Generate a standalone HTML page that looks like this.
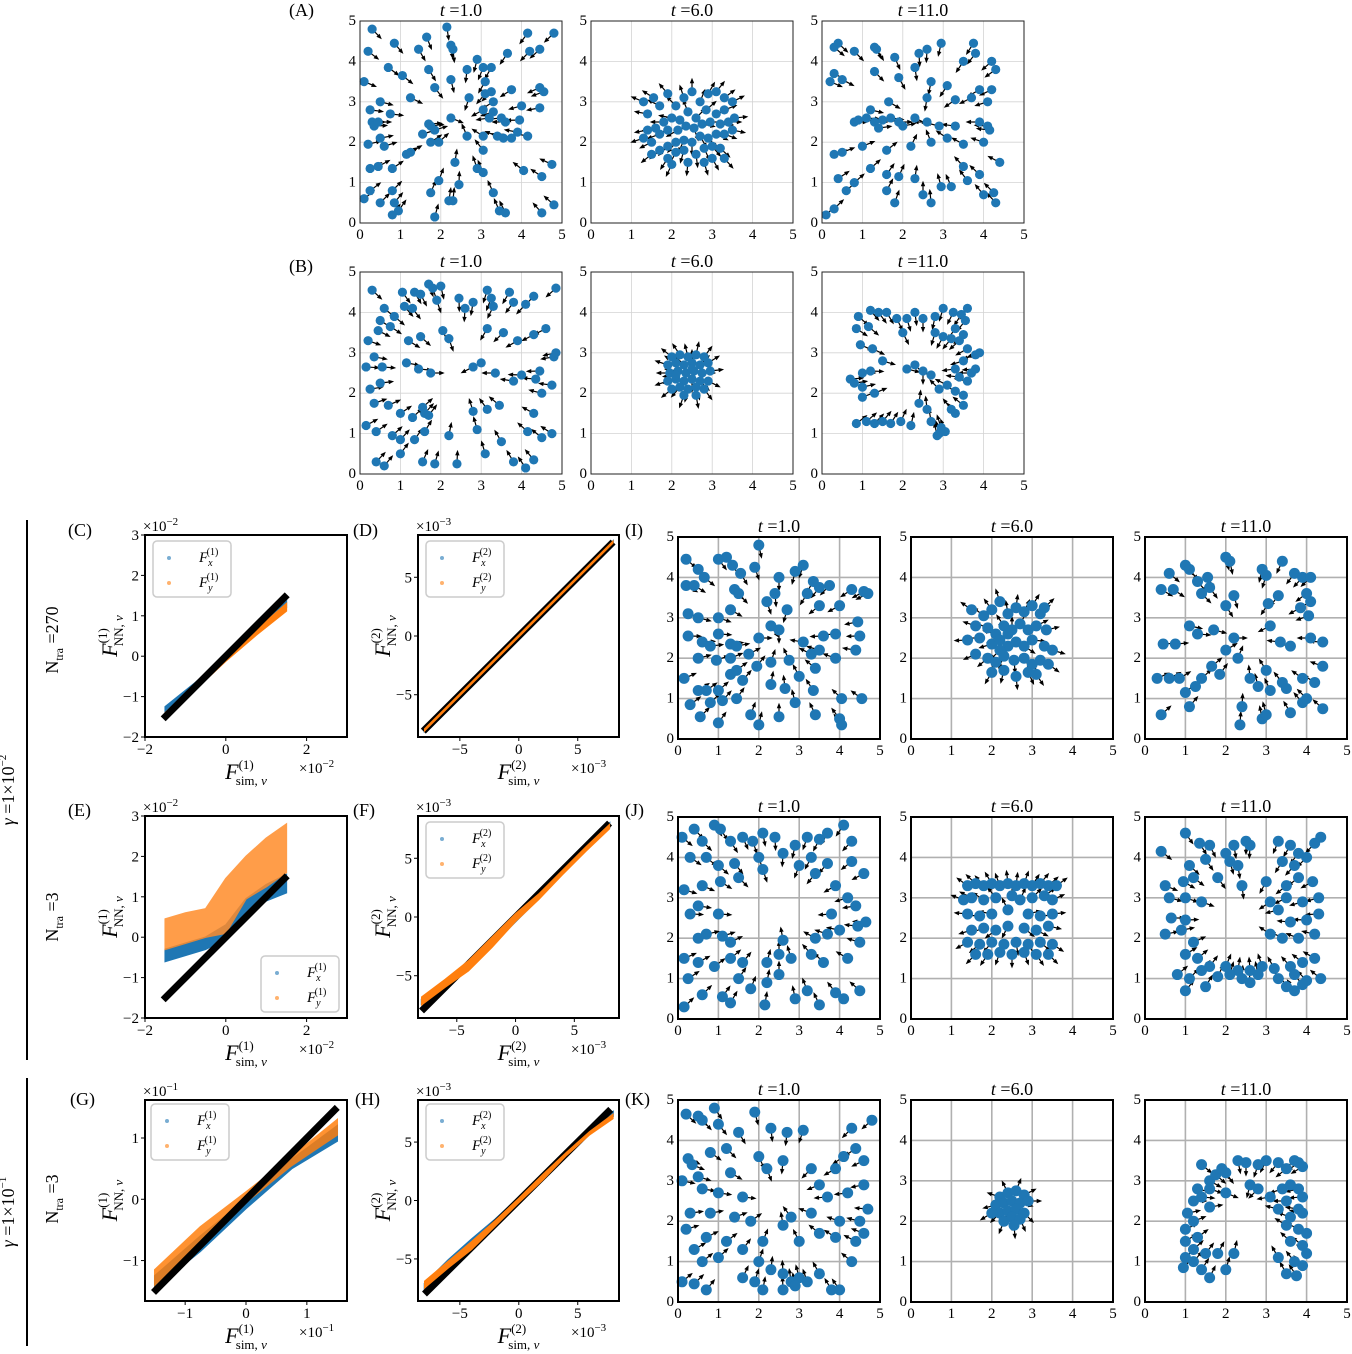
<!DOCTYPE html>
<html><head><meta charset="utf-8"><style>
body{margin:0;background:#fff}
svg{display:block;font-family:"Liberation Serif",serif}
</style></head><body>
<svg id="fig" width="1352" height="1354" viewBox="0 0 1352 1354" xmlns="http://www.w3.org/2000/svg">
<g id="labels" font-size="18" fill="#000">
<text x="289" y="16">(A)</text>
<text x="289" y="272">(B)</text>
<text x="68" y="536">(C)</text>
<text x="353" y="536">(D)</text>
<text x="625" y="536">(I)</text>
<text x="68" y="816">(E)</text>
<text x="353" y="816">(F)</text>
<text x="625" y="816">(J)</text>
<text x="70" y="1105">(G)</text>
<text x="355" y="1105">(H)</text>
<text x="625" y="1105">(K)</text>
<line x1="27" y1="520" x2="27" y2="1060" stroke="#000" stroke-width="2"/>
<line x1="27" y1="1078" x2="27" y2="1346" stroke="#000" stroke-width="2"/>
<text transform="translate(14,790) rotate(-90)" text-anchor="middle"><tspan font-style="italic">γ</tspan> =1×10<tspan font-size="11" dy="-8">−2</tspan></text>
<text transform="translate(14,1212) rotate(-90)" text-anchor="middle"><tspan font-style="italic">γ</tspan> =1×10<tspan font-size="11" dy="-8">−1</tspan></text>
<text transform="translate(58,640) rotate(-90)" text-anchor="middle">N<tspan font-size="12" dy="5">tra</tspan><tspan dy="-5"> =270</tspan></text>
<text transform="translate(58,917) rotate(-90)" text-anchor="middle">N<tspan font-size="12" dy="5">tra</tspan><tspan dy="-5"> =3</tspan></text>
<text transform="translate(58,1199) rotate(-90)" text-anchor="middle">N<tspan font-size="12" dy="5">tra</tspan><tspan dy="-5"> =3</tspan></text>
</g>
</svg>
<script>
const NS="http://www.w3.org/2000/svg";
const svg=document.getElementById('fig');
function mk(tag,attrs,parent){const e=document.createElementNS(NS,tag);for(const k in attrs)e.setAttribute(k,attrs[k]);(parent||svg).appendChild(e);return e;}

// ---- scatter data (positions in box units 0..5) ----
const ptsA1="0.3,4.8 0.2,4.25 0.85,4.45 1.45,4.3 1.65,4.6 2.15,4.85 2.25,4.4 2.3,4.3 0.7,3.85 1.05,3.65 1.7,3.8 2.25,3.55 2.65,3.8 2.9,4.05 3.05,3.85 3.25,3.85 3.65,4.2 4.15,4.7 4.2,4.25 4.45,4.3 4.8,4.7 0.1,3.5 1.85,3.35 1.25,3.1 2.7,3.1 3.1,3.5 3.75,3.3 3.1,3.2 3.25,3.25 3.3,3.0 4.45,3.35 4.55,3.25 0.5,3.0 0.25,2.8 0.75,2.7 0.3,2.5 0.35,2.4 0.45,2.5 3.05,2.8 3.2,2.6 3.3,2.75 3.5,2.6 3.6,2.5 3.95,2.55 4.0,2.9 4.45,2.85 2.25,2.6 1.7,2.45 1.75,2.4 1.85,2.3 1.55,2.2 1.75,2.0 1.95,2.0 2.65,2.15 3.05,2.15 3.4,2.15 3.55,2.1 3.75,2.1 3.9,2.25 4.15,2.15 0.2,1.95 0.5,2.1 0.6,1.9 1.15,1.7 1.25,1.75 3.05,1.8 2.35,1.5 2.9,1.35 3.05,1.25 0.25,1.35 0.45,1.4 0.8,1.35 4.05,1.3 4.5,1.15 4.75,1.45 1.95,1.05 1.75,0.75 2.45,0.95 0.1,0.6 0.25,0.8 0.5,0.5 0.8,0.8 0.85,0.5 0.95,0.3 0.8,0.2 1.85,0.15 2.2,0.55 2.3,0.55 3.3,0.75 3.45,0.3 3.6,0.25 4.5,0.25 4.8,0.45";
const ptsA2="1.3,3.0 1.4,2.7 1.55,3.1 1.7,2.9 1.9,3.2 2.1,2.9 2.3,3.1 2.5,3.25 2.7,3.0 2.9,3.2 3.1,3.25 3.3,3.1 3.5,3.0 3.3,2.8 3.1,2.7 2.85,2.8 2.6,2.6 2.4,2.75 2.2,2.55 2.0,2.6 1.8,2.5 1.6,2.35 1.4,2.3 1.3,2.1 1.5,2.0 1.7,2.2 1.9,2.3 2.15,2.3 2.35,2.4 2.55,2.35 2.75,2.45 2.95,2.5 3.2,2.45 3.4,2.5 3.55,2.6 3.5,2.3 3.3,2.2 3.1,2.2 2.9,2.1 2.7,2.15 2.5,2.0 2.3,2.05 2.1,2.0 1.9,1.9 1.7,1.8 1.5,1.7 1.9,1.6 2.1,1.75 2.3,1.8 2.6,1.7 2.8,1.85 3.0,1.9 3.2,1.85 3.3,1.6 2.4,1.5 2.0,1.45 2.8,1.5 3.0,1.6";
const ptsA3="0.3,4.35 0.4,4.45 0.8,4.25 1.3,4.35 1.35,4.3 1.8,4.1 2.3,3.85 2.4,4.2 2.6,4.3 2.95,4.45 3.5,4.0 3.75,4.45 3.8,4.2 4.2,4.0 4.3,3.8 0.2,3.5 0.3,3.7 0.5,3.55 1.3,3.75 1.9,3.6 2.7,3.5 3.1,3.4 3.9,3.3 4.2,3.3 4.1,3.0 3.7,3.1 3.3,3.05 2.6,3.1 1.65,3.0 1.2,2.8 0.8,2.5 0.9,2.55 1.1,2.6 1.3,2.5 1.4,2.35 1.5,2.55 1.7,2.6 1.9,2.5 2.0,2.4 2.3,2.6 2.6,2.5 2.9,2.4 3.3,2.4 3.9,2.5 4.1,2.4 4.15,2.3 4.0,2.0 3.5,1.95 3.1,2.1 2.7,2.0 2.2,1.9 1.6,1.8 1.0,1.9 0.3,1.7 0.5,1.75 0.4,1.1 0.6,0.8 0.8,1.0 1.2,1.35 1.6,1.2 1.9,1.15 1.6,0.8 1.8,0.5 2.3,1.1 2.5,0.7 2.7,0.5 3.2,0.9 3.5,1.4 3.6,1.05 3.9,1.2 4.4,1.5 4.0,0.7 4.25,0.75 4.3,0.5 2.95,0.9 0.1,0.2 0.3,0.35";
const ptsB1="0.3,4.55 0.6,4.1 1.05,4.5 1.35,4.5 1.5,4.45 1.7,4.7 1.8,4.6 2.0,4.65 1.9,4.3 1.3,4.1 1.1,4.15 0.85,3.9 0.5,3.8 2.45,4.35 2.6,4.1 2.8,4.25 3.15,4.55 3.25,4.35 3.3,4.15 3.7,4.5 3.8,4.25 4.1,4.2 4.3,4.4 4.85,4.6 0.2,3.3 0.45,3.55 0.75,3.65 1.2,3.3 1.5,3.4 2.05,3.55 2.2,3.35 3.15,3.6 3.55,3.5 3.9,3.3 4.3,3.45 4.6,3.6 0.35,2.9 0.55,2.65 0.15,2.65 1.15,2.75 1.45,2.6 1.75,2.5 2.8,2.65 3.0,2.75 3.35,2.5 3.8,2.3 4.0,2.45 4.35,2.35 4.45,2.55 4.8,2.9 4.85,3.0 0.25,2.1 0.5,2.25 0.35,1.75 0.7,1.7 1.0,1.5 1.55,1.65 1.6,1.5 1.7,1.45 1.3,1.4 2.8,1.55 3.15,1.6 3.45,1.7 4.3,1.5 4.5,2.0 4.75,2.2 0.15,1.2 0.4,1.05 0.8,0.95 1.0,0.85 1.35,0.85 1.6,1.05 2.2,0.95 2.9,1.1 3.5,0.8 4.15,1.05 4.5,0.9 4.75,1.0 0.4,0.3 0.6,0.2 1.0,0.5 1.55,0.3 1.85,0.25 2.4,0.25 3.1,0.5 3.8,0.3 4.1,0.15 4.3,0.35";
const ptsB2="2.0,2.9 2.2,2.95 2.4,2.9 2.6,2.95 2.8,2.9 1.9,2.7 2.1,2.75 2.3,2.7 2.5,2.75 2.7,2.7 2.9,2.75 1.95,2.5 2.15,2.55 2.35,2.5 2.55,2.55 2.75,2.5 2.95,2.55 1.9,2.3 2.1,2.35 2.3,2.3 2.5,2.35 2.7,2.3 2.9,2.3 2.0,2.1 2.2,2.15 2.4,2.1 2.6,2.15 2.8,2.1 2.3,1.95 2.6,1.95 2.1,2.45 2.5,2.6";
const ptsB3="0.9,3.9 1.2,4.05 1.4,4.0 1.6,4.0 1.85,3.85 2.1,3.85 2.3,4.0 2.5,3.85 2.8,3.9 3.0,4.1 3.25,4.0 3.45,3.95 3.6,4.1 3.55,3.8 0.85,3.6 1.15,3.65 2.0,3.5 2.8,3.5 3.0,3.4 3.2,3.35 3.4,3.3 3.6,3.1 3.5,3.45 3.3,3.6 0.95,3.2 1.25,3.1 3.8,2.95 3.9,3.0 3.5,2.8 3.3,2.6 1.5,2.8 1.0,2.5 1.2,2.55 0.7,2.35 0.8,2.25 1.0,2.15 2.1,2.6 2.3,2.7 2.5,2.55 2.7,2.45 3.4,2.4 3.6,2.3 3.7,2.5 3.8,2.6 2.9,2.1 3.1,2.2 3.3,2.05 3.5,1.95 1.0,1.9 1.3,2.0 2.4,1.75 2.6,1.6 3.2,1.6 3.5,1.7 3.3,1.5 0.85,1.25 1.1,1.3 1.3,1.25 1.5,1.3 1.7,1.25 1.95,1.3 2.2,1.2 2.7,1.3 2.95,1.15 3.05,1.05 2.9,1.0 2.85,0.95";
const ptsI1="0.2,4.45 0.5,4.2 0.65,4.0 1.0,4.45 1.2,4.5 1.35,4.3 1.55,4.1 1.9,4.25 2.0,4.8 2.5,4.0 2.9,4.15 3.1,4.3 3.35,3.9 3.5,3.75 3.75,3.8 0.2,3.8 0.4,3.8 0.25,3.1 0.5,3.0 1.0,3.0 1.3,3.2 1.4,3.7 1.5,3.6 2.2,3.4 2.4,3.6 2.7,3.2 3.2,3.6 3.5,3.3 4.0,3.3 4.3,3.7 4.6,3.65 4.7,3.6 0.25,2.55 0.6,2.4 0.8,2.3 1.0,2.6 1.3,2.35 1.45,2.3 2.0,2.5 2.3,2.8 2.5,2.7 3.1,2.4 3.3,2.1 3.5,2.2 3.6,2.55 3.9,2.6 4.45,2.9 4.5,2.55 0.5,2.0 0.95,1.95 1.3,2.0 1.75,2.1 1.95,1.8 2.3,1.9 2.75,1.95 3.0,1.55 3.4,1.75 3.9,2.0 4.4,2.2 0.15,1.5 0.5,1.2 0.7,1.2 1.0,1.2 1.3,1.6 1.45,1.7 1.6,1.45 2.3,1.35 2.65,1.25 3.35,1.2 4.05,1.0 4.55,1.0 0.3,0.85 0.55,0.55 0.8,0.9 1.1,0.95 1.45,1.0 1.8,0.6 2.5,0.55 2.9,0.9 3.4,0.6 4.0,0.5 4.05,0.35 1.0,0.4 2.0,0.35";
const ptsI2="1.5,3.2 1.8,3.05 2.0,3.2 2.2,3.4 2.4,3.1 2.6,3.25 2.8,3.15 3.0,3.3 3.2,3.1 3.3,3.25 1.6,2.8 1.9,2.75 2.1,2.6 2.3,2.8 2.5,2.7 2.7,2.85 2.9,2.7 3.1,2.8 3.35,2.7 1.4,2.45 1.7,2.5 2.0,2.35 2.2,2.45 2.4,2.3 2.6,2.4 2.8,2.3 3.0,2.45 3.3,2.3 3.5,2.2 1.6,2.1 1.9,2.0 2.1,1.9 2.3,2.05 2.55,1.95 2.8,2.0 3.0,1.85 3.2,1.95 3.4,1.85 2.0,1.65 2.3,1.7 2.6,1.55 2.9,1.65 3.1,1.6 2.4,2.6 2.2,2.2";
const ptsI3="0.6,4.1 1.0,4.3 1.1,4.2 1.3,3.9 1.55,4.0 2.0,4.5 2.1,4.4 2.9,4.2 3.0,4.05 3.4,4.4 3.7,4.1 3.9,4.0 4.1,4.0 4.0,3.6 0.4,3.7 0.7,3.7 1.4,3.6 1.6,3.75 2.0,3.3 2.2,3.55 3.05,3.35 3.3,3.55 3.85,3.25 4.1,3.4 4.05,3.05 0.45,2.35 0.75,2.35 1.1,2.8 1.3,2.6 1.7,2.7 2.2,2.5 2.3,2.0 2.0,2.2 3.1,2.8 3.35,2.4 3.6,2.3 4.1,2.5 4.4,2.4 0.3,1.5 0.6,1.5 0.85,1.5 1.0,1.15 1.25,1.3 1.4,1.5 1.65,1.8 1.85,1.6 2.6,1.5 2.8,1.3 3.0,1.7 3.1,1.2 3.4,1.4 3.5,1.25 3.9,1.5 4.2,1.4 4.4,1.8 1.1,0.8 2.4,0.8 2.9,0.5 3.0,0.6 3.6,0.65 3.9,0.9 4.0,1.0 4.4,0.75 0.4,0.6 2.35,0.35";
const ptsJ1="0.1,4.5 0.4,4.7 0.6,4.4 0.9,4.8 1.05,4.7 1.3,4.4 1.6,4.5 1.85,4.4 2.1,4.6 2.4,4.5 2.9,4.3 3.2,4.5 3.5,4.45 3.7,4.6 4.1,4.8 4.3,4.4 0.3,4.0 0.7,4.0 1.0,3.8 1.4,3.85 2.0,4.0 2.6,4.1 3.0,3.8 3.3,4.0 3.7,3.85 4.3,3.9 4.6,3.6 0.15,3.2 0.6,3.3 1.05,3.4 1.5,3.5 2.1,3.7 3.4,3.6 3.9,3.3 4.2,3.0 4.4,2.8 0.3,2.6 0.5,2.8 1.0,2.6 3.8,2.6 4.0,2.2 4.45,2.3 4.65,2.4 0.5,2.0 0.7,2.1 1.1,2.05 1.3,1.9 2.6,1.95 3.4,2.0 3.7,2.1 4.5,1.9 0.15,1.5 0.5,1.4 0.9,1.3 1.3,1.5 1.6,1.4 2.2,1.4 2.5,1.6 2.8,1.5 3.3,1.6 3.6,1.4 4.2,1.5 0.25,1.0 0.6,0.6 1.1,0.55 1.5,1.0 1.8,0.75 2.2,0.9 2.5,1.1 2.9,0.5 3.2,0.7 3.5,0.35 3.9,0.65 4.1,0.5 4.5,0.7 0.15,0.3 2.15,0.35 1.3,0.4";
const ptsJ2="1.4,3.3 1.6,3.35 1.8,3.3 2.0,3.35 2.2,3.3 2.4,3.35 2.6,3.3 2.8,3.35 3.0,3.3 3.2,3.35 3.4,3.3 1.5,3.0 1.3,2.95 1.8,2.95 2.1,3.0 2.7,2.95 3.0,3.0 3.3,3.05 3.5,2.95 3.6,3.3 1.4,2.6 1.7,2.55 2.0,2.6 2.9,2.6 3.2,2.55 3.5,2.6 1.5,2.2 1.8,2.25 2.1,2.2 2.4,2.3 2.8,2.25 3.1,2.2 3.4,2.3 1.4,1.9 1.7,1.85 2.0,1.9 2.3,1.85 2.6,1.9 2.9,1.85 3.2,1.9 3.5,1.85 1.6,1.6 1.9,1.6 2.2,1.65 2.5,1.6 2.8,1.65 3.1,1.6 3.4,1.6 2.4,2.7 2.5,3.05";
const ptsJ3="0.4,4.15 1.0,4.6 1.35,4.35 1.6,4.3 2.0,4.1 2.2,4.3 2.5,4.4 2.6,4.3 3.3,4.4 3.6,4.3 3.8,4.1 4.2,4.35 4.35,4.5 1.1,3.8 1.5,3.95 2.1,3.9 2.3,3.8 3.4,3.9 3.7,3.8 4.0,4.0 0.5,3.3 0.95,3.4 1.2,3.5 1.8,3.5 2.4,3.3 3.0,3.4 3.5,3.3 3.8,3.5 4.15,3.4 0.6,3.0 1.0,3.0 1.4,2.9 3.1,2.9 3.5,3.0 3.9,2.9 4.3,3.0 0.65,2.5 1.0,2.45 3.3,2.7 3.6,2.4 4.0,2.45 4.3,2.6 0.5,2.1 0.9,2.2 1.2,1.9 3.1,2.1 3.4,2.0 3.8,2.0 4.2,2.1 1.0,1.6 1.3,1.5 1.6,1.3 2.0,1.3 2.3,1.2 2.6,1.2 2.9,1.3 3.2,1.25 3.6,1.3 3.9,1.4 4.2,1.5 0.8,1.1 1.1,1.0 1.4,1.2 1.8,1.05 2.1,1.1 2.4,1.0 2.8,1.1 3.3,1.0 3.7,1.1 4.0,0.95 4.35,1.0 1.0,0.7 1.5,0.8 2.6,0.9 3.5,0.8 3.7,0.7 3.9,0.85";
const ptsK1="0.2,4.65 0.5,4.6 0.6,4.5 0.9,4.8 1.0,4.4 1.5,4.2 1.9,4.7 2.3,4.3 2.7,4.2 3.1,4.25 4.3,4.3 4.8,4.5 0.25,3.55 0.35,3.4 0.5,3.1 0.8,3.7 1.2,3.8 1.3,3.2 2.0,3.6 2.2,3.3 2.6,3.5 3.3,3.3 3.9,3.3 4.1,3.6 4.4,3.8 4.6,3.5 0.1,3.0 0.6,2.8 1.0,2.7 1.6,2.6 3.5,2.9 3.7,2.6 4.2,2.7 4.6,2.9 0.3,2.2 0.8,2.2 1.4,2.1 1.8,2.0 2.8,2.1 3.3,2.2 4.0,2.0 4.5,2.0 4.7,2.3 0.2,1.8 0.7,1.6 1.2,1.5 2.1,1.5 2.6,1.9 3.0,1.5 3.5,1.7 3.9,1.6 4.4,1.5 4.6,1.7 0.4,1.3 0.6,1.0 1.0,1.1 1.6,1.3 2.0,1.0 2.3,0.8 2.6,0.7 2.8,0.5 3.0,0.6 3.2,0.5 3.5,0.7 3.8,0.3 4.0,0.3 4.3,1.0 0.1,0.5 0.4,0.45 1.6,0.6 1.9,0.5 2.1,0.3 2.6,0.3 2.9,0.4 0.7,0.3";
const ptsK2="2.2,2.6 2.4,2.7 2.6,2.75 2.8,2.65 2.1,2.4 2.3,2.45 2.5,2.5 2.7,2.45 2.9,2.5 2.2,2.2 2.4,2.25 2.6,2.3 2.8,2.2 2.3,2.0 2.5,2.1 2.7,2.05 2.0,2.2 2.55,1.9";
const ptsK3="1.4,3.4 1.6,3.0 1.75,3.15 1.9,3.3 2.0,3.2 2.3,3.5 2.5,3.45 2.8,3.4 3.0,3.5 3.3,3.45 3.5,3.3 3.7,3.5 3.8,3.45 3.9,3.35 1.3,2.8 1.6,2.8 2.0,2.7 2.6,2.9 2.8,2.8 3.1,2.6 3.4,2.8 3.6,2.9 3.8,2.8 3.9,2.6 1.2,2.5 1.4,2.6 1.6,2.35 3.5,2.5 3.8,2.3 1.05,2.2 1.2,2.0 3.3,2.3 3.6,2.1 3.9,2.2 1.0,1.8 1.3,1.6 3.5,1.9 3.8,1.8 4.0,1.7 1.0,1.5 1.2,1.3 3.6,1.5 3.9,1.4 4.0,1.2 1.0,1.1 1.2,1.0 1.5,1.2 1.8,1.2 2.2,1.2 3.3,1.1 3.7,1.0 3.9,0.9 0.95,0.85 1.4,0.8 1.6,0.6 2.0,0.8 3.5,0.7 3.75,0.65";

const TITLES=["1.0","6.0","11.0"];
const TICKS5=[0,1,2,3,4,5];

function parsePts(s){return s.trim().split(/\s+/).map(p=>p.split(',').map(Number));}

function scatterPanel(name,x0,y0,S,ptsStr,dir,r,style,titleIdx){
  const g=mk('g',{});
  
  
  const sx=v=>x0+v/5*S, sy=v=>y0+S-v/5*S;
  for(const t of [1,2,3,4]){
    const gl=mk('line',{x1:sx(t),x2:sx(t),y1:y0,y2:y0+S,stroke:style.grid,'stroke-width':style.gw},g);
    
    
    const gl2=mk('line',{x1:x0,x2:x0+S,y1:sy(t),y2:sy(t),stroke:style.grid,'stroke-width':style.gw},g);
    
    
  }
  const pts=parsePts(ptsStr);
  const cx=2.5,cy=2.5,AL=12;
  for(const [px,py] of pts){
    let dx=px-cx,dy=py-cy;const L=Math.hypot(dx,dy)||1;dx/=L;dy/=L;
    const X=sx(px),Y=sy(py);
    const ex=X+dir*dx*AL, ey=Y-dir*dy*AL;
    const ar=mk('line',{x1:X,y1:Y,x2:ex,y2:ey,stroke:'#000','stroke-width':1.2},g);
    
    
    const ux=(ex-X)/AL,uy=(ey-Y)/AL;
    const hd=mk('polygon',{points:`${ex+ux*2},${ey+uy*2} ${ex-ux*3.5-uy*2.2},${ey-uy*3.5+ux*2.2} ${ex-ux*3.5+uy*2.2},${ey-uy*3.5-ux*2.2}`,fill:'#000'},g);
    
    
  }
  for(const [px,py] of pts){
    const c=mk('circle',{cx:sx(px),cy:sy(py),r:r,fill:'#1f77b4'},g);
    
    
  }
  const fr=mk('rect',{x:x0,y:y0,width:S,height:S,fill:'none',stroke:style.frame,'stroke-width':style.fw},g);
  
  
  for(const t of TICKS5){
    const a=mk('text',{x:sx(t),y:y0+S+16,'text-anchor':'middle','font-size':15},g);a.textContent=t;
    
    
    const b=mk('text',{x:x0-4,y:sy(t)+4,'text-anchor':'end','font-size':15},g);b.textContent=t;
    
    
  }
  const tt=mk('text',{x:x0+S/2,y:y0-5,'text-anchor':'middle','font-size':18},g);
  tt.innerHTML='<tspan font-style="italic">t</tspan> =1.0'.replace('1.0',TITLES[titleIdx]);
  
  
}
const thin={grid:'#d3d3d3',gw:0.8,frame:'#222',fw:1};
const thick={grid:'#b0b0b0',gw:1.6,frame:'#000',fw:2};
const colsTop=[360,591,822], colsBot=[678,911,1145];
scatterPanel('panel-a-t1',colsTop[0],21,202,ptsA1,-1,4.6,thin,0);
scatterPanel('panel-a-t6',colsTop[1],21,202,ptsA2,1,4.6,thin,1);
scatterPanel('panel-a-t11',colsTop[2],21,202,ptsA3,-1,4.6,thin,2);
scatterPanel('panel-b-t1',colsTop[0],272,202,ptsB1,-1,4.6,thin,0);
scatterPanel('panel-b-t6',colsTop[1],272,202,ptsB2,1,4.6,thin,1);
scatterPanel('panel-b-t11',colsTop[2],272,202,ptsB3,-1,4.6,thin,2);
scatterPanel('panel-i-t1',colsBot[0],537,202,ptsI1,-1,5.5,thick,0);
scatterPanel('panel-i-t6',colsBot[1],537,202,ptsI2,1,5.5,thick,1);
scatterPanel('panel-i-t11',colsBot[2],537,202,ptsI3,-1,5.5,thick,2);
scatterPanel('panel-j-t1',colsBot[0],817,202,ptsJ1,-1,5.5,thick,0);
scatterPanel('panel-j-t6',colsBot[1],817,202,ptsJ2,1,5.5,thick,1);
scatterPanel('panel-j-t11',colsBot[2],817,202,ptsJ3,-1,5.5,thick,2);
scatterPanel('panel-k-t1',colsBot[0],1100,202,ptsK1,-1,5.5,thick,0);
scatterPanel('panel-k-t6',colsBot[1],1100,202,ptsK2,1,5.5,thick,1);
scatterPanel('panel-k-t11',colsBot[2],1100,202,ptsK3,-1,5.5,thick,2);

// ---- force comparison data ----
const xsC=[-1.5,-0.75,0,0.75,1.5];
const blueLoC=[-1.45,-0.8,-0.1,0.55,1.2], blueHiC=[-1.25,-0.65,0,0.65,1.35];
const oraLoC=[-1.5,-0.82,-0.12,0.52,1.12], oraHiC=[-1.4,-0.7,-0.02,0.65,1.3];
const xsD=[-8,-4,0,4,8];
const blueLoD=[-8.1,-4.1,-0.1,3.9,7.9], blueHiD=[-7.9,-3.9,0.1,4.1,8.1];
const oraLoD=[-8.1,-4.1,-0.1,3.9,7.9], oraHiD=[-7.9,-3.9,0.1,4.1,8.1];
const xsE=[-1.5,-1,-0.5,0,0.5,1,1.5];
const blueLoE=[-0.6,-0.45,-0.3,-0.05,0.5,0.9,1.1], blueHiE=[-0.3,-0.15,0,0.3,0.95,1.3,1.55];
const oraLoE=[-0.3,-0.15,0,0.1,0.95,1.25,1.6], oraHiE=[0.45,0.6,0.7,1.45,2.0,2.45,2.8];
const xsF=[-8,-6,-4,-2,0,2,4,6,8];
const blueLoF=[-7.4,-5.9,-4.4,-2.4,-0.4,1.6,3.7,5.7,7.6], blueHiF=[-7.0,-5.5,-3.8,-1.8,0.2,2.1,4.1,6.1,8.0];
const oraLoF=[-7.5,-6.0,-4.6,-2.6,-0.4,1.5,3.6,5.6,7.5], oraHiF=[-6.8,-5.3,-3.7,-1.7,0.3,2.0,4.0,6.0,7.9];
const xsG=[-1.5,-0.75,0,0.75,1.5];
const blueLoG=[-1.45,-0.85,-0.15,0.5,0.95], blueHiG=[-1.25,-0.6,0,0.65,1.2];
const oraLoG=[-1.4,-0.72,-0.05,0.55,1.05], oraHiG=[-1.15,-0.45,0.12,0.7,1.3];
const xsH=[-8,-6,-4,-2,0,2,4,6,8];
const blueLoH=[-7.5,-5.6,-3.9,-2.0,-0.1,1.9,3.9,5.7,7.2], blueHiH=[-7.1,-5.1,-3.3,-1.6,0.3,2.3,4.2,6.0,7.6];
const oraLoH=[-7.5,-5.8,-4.2,-2.2,-0.2,1.7,3.8,5.6,7.0], oraHiH=[-6.9,-5.2,-3.5,-1.7,0.2,2.2,4.1,5.9,7.4];
const ticksC=[-2,-1,0,1,2,3], ticksCx=[-2,0,2];
const ticksD=[-5,0,5];
const ticksG=[-1,0,1];

function linePanel(name,box,xr,yr,xt,yt,lineEnds,series,legendPos,sup,exp){
  const [x0,y0,W,H]=box;
  const g=mk('g',{});
  
  
  const sx=v=>x0+(v-xr[0])/(xr[1]-xr[0])*W, sy=v=>y0+H-(v-yr[0])/(yr[1]-yr[0])*H;
  const clipId=name+'-clip';
  const cp=mk('clipPath',{id:clipId},g);mk('rect',{x:x0,y:y0,width:W,height:H},cp);
  const inner=mk('g',{'clip-path':`url(#${clipId})`},g);
  for(const s of series){
    const pts=[];
    s.xs.forEach((x,i)=>pts.push(sx(x)+','+sy(s.hi[i])));
    for(let i=s.xs.length-1;i>=0;i--)pts.push(sx(s.xs[i])+','+sy(s.lo[i]));
    const p=mk('polygon',{points:pts.join(' '),fill:s.color,stroke:s.color,'stroke-width':1.5,opacity:s.op||1},inner);
    
    
  }
  const bl=mk('line',{x1:sx(lineEnds[0]),y1:sy(lineEnds[0]),x2:sx(lineEnds[1]),y2:sy(lineEnds[1]),stroke:'#000','stroke-width':7},inner);
  
  
  const fr=mk('rect',{x:x0,y:y0,width:W,height:H,fill:'none',stroke:'#000','stroke-width':2},g);
  
  
  for(const t of xt){
    mk('line',{x1:sx(t),x2:sx(t),y1:y0+H,y2:y0+H+4,stroke:'#000'},g);
    const a=mk('text',{x:sx(t),y:y0+H+17,'text-anchor':'middle','font-size':15},g);a.textContent=t<0?'−'+(-t):t;
    
    
  }
  for(const t of yt){
    mk('line',{x1:x0-4,x2:x0,y1:sy(t),y2:sy(t),stroke:'#000'},g);
    const b=mk('text',{x:x0-6,y:sy(t)+5,'text-anchor':'end','font-size':15},g);b.textContent=t<0?'−'+(-t):t;
    
    
  }
  const o1=mk('text',{x:x0-2,y:y0-4,'font-size':15},g);
  o1.innerHTML=`×10<tspan font-size="11" dy="-6">−${exp}</tspan>`;
  
  
  const o2=mk('text',{x:x0+W-48,y:y0+H+36,'font-size':15},g);
  o2.innerHTML=`×10<tspan font-size="11" dy="-6">−${exp}</tspan>`;
  
  
  const xl=mk('text',{x:x0+W/2,y:y0+H+42,'text-anchor':'middle','font-size':22},g);
  xl.innerHTML=`<tspan font-style="italic">F</tspan><tspan font-size="13" dy="-10">(${sup})</tspan><tspan font-size="13" dx="-18" dy="16">sim, <tspan font-style="italic">v</tspan></tspan>`;
  
  
  const yl=mk('text',{transform:`translate(${x0-28},${y0+H/2}) rotate(-90)`,'text-anchor':'middle','font-size':22},g);
  yl.innerHTML=`<tspan font-style="italic">F</tspan><tspan font-size="13" dy="-10">(${sup})</tspan><tspan font-size="13" dx="-18" dy="16">NN, <tspan font-style="italic">v</tspan></tspan>`;
  
  
  const [lx,ly]=legendPos;
  const lg=mk('g',{},g);
  
  
  mk('rect',{x:lx,y:ly,width:78,height:56,rx:4,fill:'#fff','fill-opacity':0.8,stroke:'#ccc','stroke-width':1.5},lg);
  [['#1f77b4','x'],['#ff7f0e','y']].forEach(([c,s],i)=>{
    const d=mk('circle',{cx:lx+16,cy:ly+17+i*25,r:2,fill:c,opacity:0.6},lg);
    
    
    const t=mk('text',{x:lx+46,y:ly+21+i*25,'font-size':15},lg);
    t.innerHTML=`<tspan font-style="italic">F</tspan><tspan font-size="10" dy="4" font-style="italic">${s}</tspan><tspan font-size="10" dx="-6" dy="-11">(${sup})</tspan>`;
    
    
  });
}
const S=(xs,lo,hi,color,name,op)=>({xs,lo,hi,color,name,op});
linePanel('panel-c',[145,535,202,202],[-2,3],[-2,3],ticksCx,ticksC,[-1.55,1.52],
  [S(xsC,blueLoC,blueHiC,'#1f77b4','series-fx'),S(xsC,oraLoC,oraHiC,'#ff7f0e','series-fy')],[153,541],1,2);
linePanel('panel-d',[418,535,201,202],[-8.55,8.5],[-8.6,8.6],ticksD,ticksD,[-8.1,8.0],
  [S(xsD,blueLoD,blueHiD,'#1f77b4','series-fx')],[426,541],2,3);
linePanel('panel-e',[145,816,202,202],[-2,3],[-2,3],ticksCx,ticksC,[-1.55,1.52],
  [S(xsE,blueLoE,blueHiE,'#1f77b4','series-fx'),S(xsE,oraLoE,oraHiE,'#ff8c2a','series-fy',0.85)],[261,956],1,2);
linePanel('panel-f',[418,816,201,202],[-8.3,8.8],[-8.6,8.6],ticksD,ticksD,[-8.0,8.0],
  [S(xsF,blueLoF,blueHiF,'#1f77b4','series-fx')],[426,822],2,3);
linePanel('panel-g',[145,1100,202,201],[-1.66,1.66],[-1.66,1.62],ticksG,ticksG,[-1.52,1.5],
  [S(xsG,blueLoG,blueHiG,'#1f77b4','series-fx'),S(xsG,oraLoG,oraHiG,'#ff7f0e','series-fy',0.85)],[151,1104],1,1);
linePanel('panel-h',[418,1100,201,201],[-8.55,8.5],[-8.6,8.6],ticksD,ticksD,[-8.0,7.8],
  [S(xsH,blueLoH,blueHiH,'#1f77b4','series-fx')],[426,1104],2,3);

function overlay(box,xr,yr,xs,lo,hi,name){
  const [x0,y0,W,H]=box;
  const sx=v=>x0+(v-xr[0])/(xr[1]-xr[0])*W, sy=v=>y0+H-(v-yr[0])/(yr[1]-yr[0])*H;
  const pts=[];xs.forEach((x,i)=>pts.push(sx(x)+','+sy(hi[i])));
  for(let i=xs.length-1;i>=0;i--)pts.push(sx(xs[i])+','+sy(lo[i]));
  const p=mk('polygon',{points:pts.join(' '),fill:'#ff7f0e',stroke:'#ff7f0e','stroke-width':1});
  
  
}
overlay([418,535,201,202],[-8.55,8.5],[-8.6,8.6],xsD,oraLoD,oraHiD,'panel-d-series-fy');
overlay([418,816,201,202],[-8.3,8.8],[-8.6,8.6],xsF,oraLoF,oraHiF,'panel-f-series-fy');
overlay([418,1100,201,201],[-8.55,8.5],[-8.6,8.6],xsH,oraLoH,oraHiH,'panel-h-series-fy');
</script>
</body></html>
